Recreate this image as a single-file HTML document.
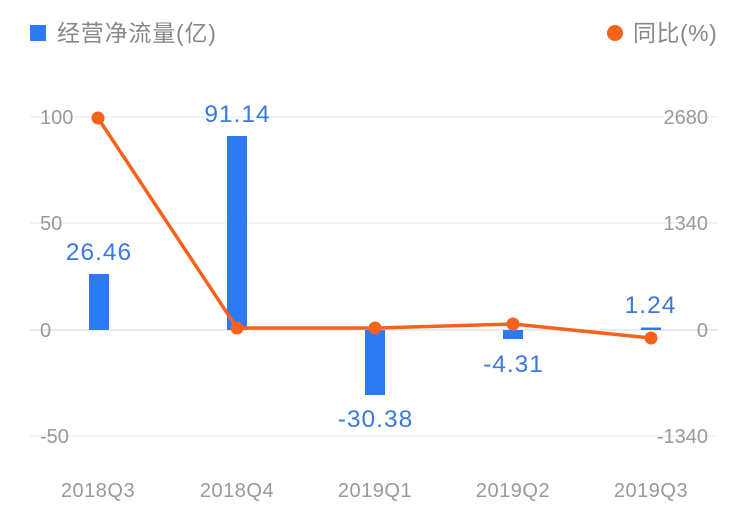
<!DOCTYPE html>
<html><head><meta charset="utf-8"><style>
html,body{margin:0;padding:0;background:#fff;}
svg{display:block;}
text{font-family:"Liberation Sans","Noto Sans CJK SC",sans-serif;}
</style></head><body>
<svg width="750" height="517" viewBox="0 0 750 517" xmlns="http://www.w3.org/2000/svg">
<rect width="750" height="517" fill="#fff"/>
<!-- legend -->
<rect x="30" y="25" width="16" height="16" fill="#2d7bf4"/>
<text x="57" y="41" font-size="23" fill="#888" letter-spacing="0.8">经营净流量(亿)</text>
<circle cx="615" cy="33" r="8" fill="#f7621a"/>
<text x="633" y="41" font-size="23" fill="#888" letter-spacing="0.5">同比(%)</text>
<!-- gridlines -->
<line x1="30" y1="117" x2="718" y2="117" stroke="#f0f0f0" stroke-width="1.5"/>
<line x1="30" y1="223" x2="718" y2="223" stroke="#f0f0f0" stroke-width="1.5"/>
<line x1="30" y1="330" x2="718" y2="330" stroke="#e4e4e4" stroke-width="1.5"/>
<line x1="30" y1="436" x2="718" y2="436" stroke="#f0f0f0" stroke-width="1.5"/>
<!-- left axis -->
<g font-size="20" fill="#999">
<text x="40" y="124">100</text>
<text x="40" y="230">50</text>
<text x="40" y="337">0</text>
<text x="40" y="443">-50</text>
</g>
<g font-size="20" fill="#999" text-anchor="end">
<text x="708" y="124">2680</text>
<text x="708" y="230">1340</text>
<text x="708" y="337">0</text>
<text x="708" y="443">-1340</text>
</g>
<!-- x labels -->
<g font-size="20" fill="#999" text-anchor="middle" letter-spacing="0.5">
<text x="98" y="497">2018Q3</text>
<text x="237" y="497">2018Q4</text>
<text x="375" y="497">2019Q1</text>
<text x="513" y="497">2019Q2</text>
<text x="651" y="497">2019Q3</text>
</g>
<!-- bars -->
<g fill="#2d7bf4">
<rect x="89" y="274" width="20" height="56"/>
<rect x="227" y="136" width="20" height="194"/>
<rect x="365" y="330" width="20" height="65"/>
<rect x="503" y="330" width="20" height="9"/>
<rect x="641" y="327.5" width="20" height="2.5"/>
</g>
<!-- bar labels -->
<g font-size="24.5" fill="#3b78e0" text-anchor="middle" letter-spacing="1">
<text x="99" y="260">26.46</text>
<text x="237.5" y="122">91.14</text>
<text x="375.5" y="427">-30.38</text>
<text x="513.5" y="372">-4.31</text>
<text x="650.5" y="313">1.24</text>
</g>
<!-- line -->
<polyline points="98,118 237,328 375,328 513,324 651,338" fill="none" stroke="#f7621a" stroke-width="3.5" stroke-linejoin="round"/>
<g fill="#f7621a">
<circle cx="98" cy="118" r="6.5"/>
<circle cx="237" cy="328" r="6.5"/>
<circle cx="375" cy="328" r="6.5"/>
<circle cx="513" cy="324" r="6.5"/>
<circle cx="651" cy="338" r="6.5"/>
</g>
</svg>
</body></html>
